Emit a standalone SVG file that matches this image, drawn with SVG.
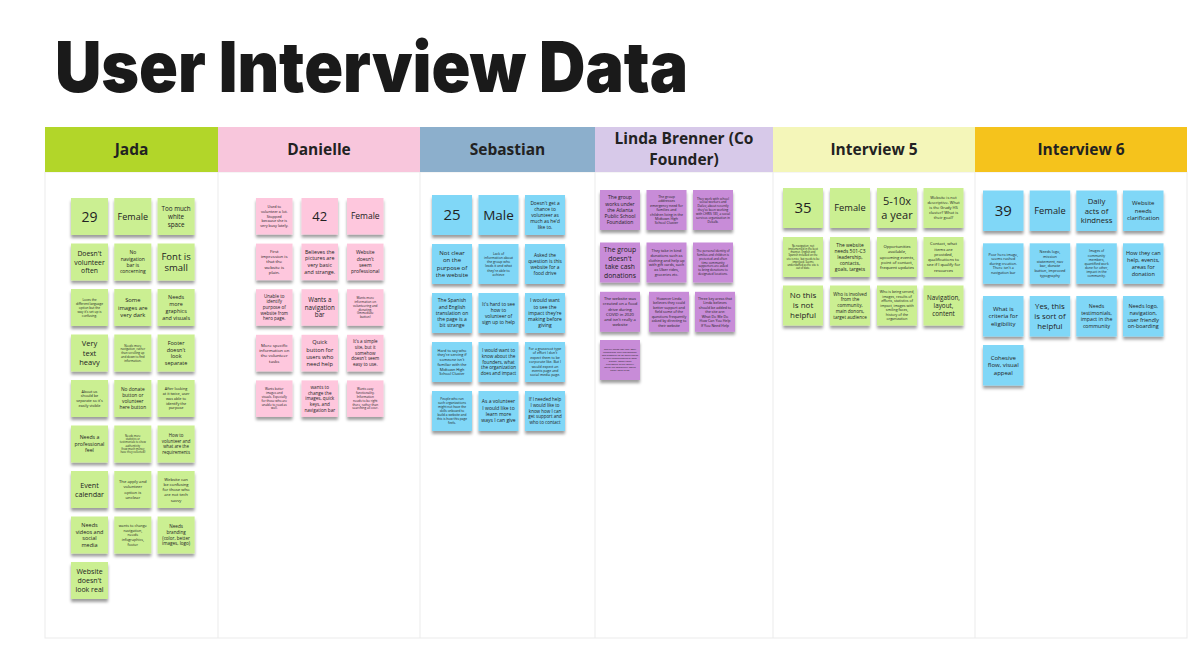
<svg xmlns="http://www.w3.org/2000/svg" width="1203" height="656" viewBox="0 0 1203 656">
<defs>
<filter id="sh" x="-20%" y="-20%" width="140%" height="160%">
<feDropShadow dx="0" dy="3" stdDeviation="1.6" flood-color="#000" flood-opacity="0.38"/>
</filter>
</defs>
<style>
.n{filter:url(#sh);}
.g{fill:#cbef92;}
.p{fill:#fec7dd;}
.b{fill:#80d7f7;}
.v{fill:#c88cd8;}
.t{font-family:"Open Sans","Liberation Sans",sans-serif;fill:#222;text-anchor:middle;}
.h{font-family:"Open Sans","Liberation Sans",sans-serif;font-weight:700;font-size:15.5px;fill:#222;text-anchor:middle;}
.div{stroke:#ebebeb;stroke-width:1;}
</style>
<rect width="1203" height="656" fill="#ffffff"/>
<text x="55" y="92" font-family="Inter,'Liberation Sans',sans-serif" font-weight="900" font-size="70" fill="#1a1a1a" textLength="633" lengthAdjust="spacingAndGlyphs">User Interview Data</text>

<g id="board">
<rect x="45" y="172" width="1142" height="466" fill="#ffffff" stroke="#ebebeb"/>
<line class="div" x1="218" y1="172" x2="218" y2="638"/>
<line class="div" x1="420" y1="172" x2="420" y2="638"/>
<line class="div" x1="595" y1="172" x2="595" y2="638"/>
<line class="div" x1="773" y1="172" x2="773" y2="638"/>
<line class="div" x1="975" y1="172" x2="975" y2="638"/>
</g>

<g id="header-jada"><rect x="45" y="127" width="173" height="45" fill="#b2d629"/><text class="h" x="131.5" y="155">Jada</text></g>
<g id="header-danielle"><rect x="218" y="127" width="202" height="45" fill="#f8c6dc"/><text class="h" x="319" y="155">Danielle</text></g>
<g id="header-sebastian"><rect x="420" y="127" width="175" height="45" fill="#8cafcc"/><text class="h" x="507.5" y="155">Sebastian</text></g>
<g id="header-linda"><rect x="595" y="127" width="178" height="45" fill="#d7c9e9"/><text class="h" x="684" y="144">Linda Brenner (Co<tspan x="684" dy="21">Founder)</tspan></text></g>
<g id="header-i5"><rect x="773" y="127" width="202" height="45" fill="#f4f6b9"/><text class="h" x="874" y="155">Interview 5</text></g>
<g id="header-i6"><rect x="975" y="127" width="212" height="45" fill="#f5c31c"/><text class="h" x="1081" y="155">Interview 6</text></g>

<!-- Jada -->
<g id="j1"><rect class="n g" x="71" y="198" width="37" height="37"/><text class="t" x="89.5" y="221.5" font-size="14">29</text></g>
<g id="j2"><rect class="n g" x="114.3" y="198" width="37" height="37"/><text class="t" x="132.8" y="219.7" font-size="9">Female</text></g>
<g id="j3"><rect class="n g" x="157.6" y="198" width="37" height="37"/><text class="t" x="176.1" y="210.9" font-size="6.3"><tspan x="176.1">Too much</tspan><tspan x="176.1" dy="1.25em">white</tspan><tspan x="176.1" dy="1.25em">space</tspan></text></g>
<g id="j4"><rect class="n g" x="71" y="243.5" width="37" height="37"/><text class="t" x="89.5" y="256" font-size="6.8"><tspan x="89.5">Doesn't</tspan><tspan x="89.5" dy="1.25em">volunteer</tspan><tspan x="89.5" dy="1.25em">often</tspan></text></g>
<g id="j5"><rect class="n g" x="114.3" y="243.5" width="37" height="37"/><text class="t" x="132.8" y="254.4" font-size="5"><tspan x="132.8">No</tspan><tspan x="132.8" dy="1.25em">navigation</tspan><tspan x="132.8" dy="1.25em">bar is</tspan><tspan x="132.8" dy="1.25em">concerning</tspan></text></g>
<g id="j6"><rect class="n g" x="157.6" y="243.5" width="37" height="37"/><text class="t" x="176.1" y="259.5" font-size="9.5"><tspan x="176.1">Font is</tspan><tspan x="176.1" dy="1.25em">small</tspan></text></g>
<g id="j7"><rect class="n g" x="71" y="289" width="37" height="37"/><text class="t" x="89.5" y="300.7" font-size="3.2"><tspan x="89.5">Loves the</tspan><tspan x="89.5" dy="1.25em">different language</tspan><tspan x="89.5" dy="1.25em">option but the</tspan><tspan x="89.5" dy="1.25em">way it's set up is</tspan><tspan x="89.5" dy="1.25em">confusing.</tspan></text></g>
<g id="j8"><rect class="n g" x="114.3" y="289" width="37" height="37"/><text class="t" x="132.8" y="302.3" font-size="5.8"><tspan x="132.8">Some</tspan><tspan x="132.8" dy="1.25em">images are</tspan><tspan x="132.8" dy="1.25em">very dark</tspan></text></g>
<g id="j9"><rect class="n g" x="157.6" y="289" width="37" height="37"/><text class="t" x="176.1" y="299.3" font-size="5.4"><tspan x="176.1">Needs</tspan><tspan x="176.1" dy="1.25em">more</tspan><tspan x="176.1" dy="1.25em">graphics</tspan><tspan x="176.1" dy="1.25em">and visuals</tspan></text></g>
<g id="j10"><rect class="n g" x="71" y="334.5" width="37" height="37"/><text class="t" x="89.5" y="346.3" font-size="7.5"><tspan x="89.5">Very</tspan><tspan x="89.5" dy="1.25em">text</tspan><tspan x="89.5" dy="1.25em">heavy</tspan></text></g>
<g id="j11"><rect class="n g" x="114.3" y="334.5" width="37" height="37"/><text class="t" x="132.8" y="346.6" font-size="3"><tspan x="132.8">Needs more</tspan><tspan x="132.8" dy="1.25em">navigation, rather</tspan><tspan x="132.8" dy="1.25em">than scrolling up</tspan><tspan x="132.8" dy="1.25em">and down to find</tspan><tspan x="132.8" dy="1.25em">information.</tspan></text></g>
<g id="j12"><rect class="n g" x="157.6" y="334.5" width="37" height="37"/><text class="t" x="176.1" y="344.7" font-size="5.5"><tspan x="176.1">Footer</tspan><tspan x="176.1" dy="1.25em">doesn't</tspan><tspan x="176.1" dy="1.25em">look</tspan><tspan x="176.1" dy="1.25em">separate</tspan></text></g>
<g id="j13"><rect class="n g" x="71" y="380" width="37" height="37"/><text class="t" x="89.5" y="392.7" font-size="3.8"><tspan x="89.5">About us</tspan><tspan x="89.5" dy="1.25em">should be</tspan><tspan x="89.5" dy="1.25em">separate so it's</tspan><tspan x="89.5" dy="1.25em">easily visible</tspan></text></g>
<g id="j14"><rect class="n g" x="114.3" y="380" width="37" height="37"/><text class="t" x="132.8" y="391.2" font-size="4.8"><tspan x="132.8">No donate</tspan><tspan x="132.8" dy="1.25em">button or</tspan><tspan x="132.8" dy="1.25em">volunteer</tspan><tspan x="132.8" dy="1.25em">here button</tspan></text></g>
<g id="j15"><rect class="n g" x="157.6" y="380" width="37" height="37"/><text class="t" x="176.1" y="390.4" font-size="3.8"><tspan x="176.1">After looking</tspan><tspan x="176.1" dy="1.25em">at it twice, user</tspan><tspan x="176.1" dy="1.25em">was able to</tspan><tspan x="176.1" dy="1.25em">identify the</tspan><tspan x="176.1" dy="1.25em">purpose</tspan></text></g>
<g id="j16"><rect class="n g" x="71" y="425.5" width="37" height="37"/><text class="t" x="89.5" y="439.4" font-size="5.2"><tspan x="89.5">Needs a</tspan><tspan x="89.5" dy="1.25em">professional</tspan><tspan x="89.5" dy="1.25em">feel</tspan></text></g>
<g id="j17"><rect class="n g" x="114.3" y="425.5" width="37" height="37"/><text class="t" x="132.8" y="436.5" font-size="2.7"><tspan x="132.8">Needs more</tspan><tspan x="132.8" dy="1.25em">statistics or</tspan><tspan x="132.8" dy="1.25em">testimonials to show</tspan><tspan x="132.8" dy="1.25em">authenticity</tspan><tspan x="132.8" dy="1.25em">(how much money</tspan><tspan x="132.8" dy="1.25em">have they collected)</tspan></text></g>
<g id="j18"><rect class="n g" x="157.6" y="425.5" width="37" height="37"/><text class="t" x="176.1" y="437.3" font-size="4.4"><tspan x="176.1">How to</tspan><tspan x="176.1" dy="1.25em">volunteer and</tspan><tspan x="176.1" dy="1.25em">what are the</tspan><tspan x="176.1" dy="1.25em">requirements</tspan></text></g>
<g id="j19"><rect class="n g" x="71" y="471" width="37" height="37"/><text class="t" x="89.5" y="487.6" font-size="7.2"><tspan x="89.5">Event</tspan><tspan x="89.5" dy="1.25em">calendar</tspan></text></g>
<g id="j20"><rect class="n g" x="114.3" y="471" width="37" height="37"/><text class="t" x="132.8" y="483.1" font-size="4.2"><tspan x="132.8">The apply and</tspan><tspan x="132.8" dy="1.25em">volunteer</tspan><tspan x="132.8" dy="1.25em">option is</tspan><tspan x="132.8" dy="1.25em">unclear</tspan></text></g>
<g id="j21"><rect class="n g" x="157.6" y="471" width="37" height="37"/><text class="t" x="176.1" y="480.5" font-size="4.2"><tspan x="176.1">Website can</tspan><tspan x="176.1" dy="1.25em">be confusing</tspan><tspan x="176.1" dy="1.25em">for those who</tspan><tspan x="176.1" dy="1.25em">are not tech</tspan><tspan x="176.1" dy="1.25em">savvy</tspan></text></g>
<g id="j22"><rect class="n g" x="71" y="516.5" width="37" height="37"/><text class="t" x="89.5" y="526.7" font-size="5.5"><tspan x="89.5">Needs</tspan><tspan x="89.5" dy="1.25em">videos and</tspan><tspan x="89.5" dy="1.25em">social</tspan><tspan x="89.5" dy="1.25em">media</tspan></text></g>
<g id="j23"><rect class="n g" x="114.3" y="516.5" width="37" height="37"/><text class="t" x="132.8" y="527.1" font-size="3.7"><tspan x="132.8">wants to change</tspan><tspan x="132.8" dy="1.25em">navigation,</tspan><tspan x="132.8" dy="1.25em">needs</tspan><tspan x="132.8" dy="1.25em">infographics,</tspan><tspan x="132.8" dy="1.25em">footer</tspan></text></g>
<g id="j24"><rect class="n g" x="157.6" y="516.5" width="37" height="37"/><text class="t" x="176.1" y="528" font-size="4.6"><tspan x="176.1">Needs</tspan><tspan x="176.1" dy="1.25em">branding</tspan><tspan x="176.1" dy="1.25em">(color, better</tspan><tspan x="176.1" dy="1.25em">images, logo)</tspan></text></g>
<g id="j25"><rect class="n g" x="71" y="562" width="37" height="37"/><text class="t" x="89.5" y="574.3" font-size="7"><tspan x="89.5">Website</tspan><tspan x="89.5" dy="1.25em">doesn't</tspan><tspan x="89.5" dy="1.25em">look real</tspan></text></g>

<!-- Danielle -->
<g id="d1"><rect class="n p" x="256" y="198" width="36.5" height="36.5"/><text class="t" x="274.25" y="208.1" font-size="3.8"><tspan x="274.25">Used to</tspan><tspan x="274.25" dy="1.25em">volunteer a lot.</tspan><tspan x="274.25" dy="1.25em">Stopped</tspan><tspan x="274.25" dy="1.25em">because she is</tspan><tspan x="274.25" dy="1.25em">very busy lately.</tspan></text></g>
<g id="d2"><rect class="n p" x="301.5" y="198" width="36.5" height="36.5"/><text class="t" x="319.75" y="220.9" font-size="13">42</text></g>
<g id="d3"><rect class="n p" x="347" y="198" width="36.5" height="36.5"/><text class="t" x="365.25" y="219.3" font-size="8.5">Female</text></g>
<g id="d4"><rect class="n p" x="256" y="243.6" width="36.5" height="36.5"/><text class="t" x="274.25" y="252.65" font-size="4.3"><tspan x="274.25">First</tspan><tspan x="274.25" dy="1.25em">impression is</tspan><tspan x="274.25" dy="1.25em">that the</tspan><tspan x="274.25" dy="1.25em">website is</tspan><tspan x="274.25" dy="1.25em">plain.</tspan></text></g>
<g id="d5"><rect class="n p" x="301.5" y="243.6" width="36.5" height="36.5"/><text class="t" x="319.75" y="253.8" font-size="5.3"><tspan x="319.75">Believes the</tspan><tspan x="319.75" dy="1.25em">pictures are</tspan><tspan x="319.75" dy="1.25em">very basic</tspan><tspan x="319.75" dy="1.25em">and strange.</tspan></text></g>
<g id="d6"><rect class="n p" x="347" y="243.6" width="36.5" height="36.5"/><text class="t" x="365.25" y="254.3" font-size="5"><tspan x="365.25">Website</tspan><tspan x="365.25" dy="1.25em">doesn't</tspan><tspan x="365.25" dy="1.25em">seem</tspan><tspan x="365.25" dy="1.25em">professional</tspan></text></g>
<g id="d7"><rect class="n p" x="256" y="289.2" width="36.5" height="36.5"/><text class="t" x="274.25" y="297.8" font-size="4.5"><tspan x="274.25">Unable to</tspan><tspan x="274.25" dy="1.25em">identify</tspan><tspan x="274.25" dy="1.25em">purpose of</tspan><tspan x="274.25" dy="1.25em">website from</tspan><tspan x="274.25" dy="1.25em">hero page.</tspan></text></g>
<g id="d8"><rect class="n p" x="301.5" y="289.2" width="36.5" height="36.5"/><text class="t" x="319.75" y="301.9" font-size="6.2"><tspan x="319.75">Wants a</tspan><tspan x="319.75" dy="1.25em">navigation</tspan><tspan x="319.75" dy="1.25em">bar</tspan></text></g>
<g id="d9"><rect class="n p" x="347" y="289.2" width="36.5" height="36.5"/><text class="t" x="365.25" y="298.9" font-size="3.1"><tspan x="365.25">Wants more</tspan><tspan x="365.25" dy="1.25em">information on</tspan><tspan x="365.25" dy="1.25em">volunteering and</tspan><tspan x="365.25" dy="1.25em">donating.</tspan><tspan x="365.25" dy="1.25em">(Immediate</tspan><tspan x="365.25" dy="1.25em">button)</tspan></text></g>
<g id="d10"><rect class="n p" x="256" y="334.8" width="36.5" height="36.5"/><text class="t" x="274.25" y="346.5" font-size="4.3"><tspan x="274.25">More specific</tspan><tspan x="274.25" dy="1.25em">information on</tspan><tspan x="274.25" dy="1.25em">the volunteer</tspan><tspan x="274.25" dy="1.25em">tasks</tspan></text></g>
<g id="d11"><rect class="n p" x="301.5" y="334.8" width="36.5" height="36.5"/><text class="t" x="319.75" y="344.4" font-size="5.7"><tspan x="319.75">Quick</tspan><tspan x="319.75" dy="1.25em">button for</tspan><tspan x="319.75" dy="1.25em">users who</tspan><tspan x="319.75" dy="1.25em">need help</tspan></text></g>
<g id="d12"><rect class="n p" x="347" y="334.8" width="36.5" height="36.5"/><text class="t" x="365.25" y="343.4" font-size="4.5"><tspan x="365.25">It's a simple</tspan><tspan x="365.25" dy="1.25em">site, but it</tspan><tspan x="365.25" dy="1.25em">somehow</tspan><tspan x="365.25" dy="1.25em">doesn't seem</tspan><tspan x="365.25" dy="1.25em">easy to use.</tspan></text></g>
<g id="d13"><rect class="n p" x="256" y="380.4" width="36.5" height="36.5"/><text class="t" x="274.25" y="390.1" font-size="3.1"><tspan x="274.25">Wants better</tspan><tspan x="274.25" dy="1.25em">images and</tspan><tspan x="274.25" dy="1.25em">visuals. Especially</tspan><tspan x="274.25" dy="1.25em">for those who are</tspan><tspan x="274.25" dy="1.25em">unable to read as</tspan><tspan x="274.25" dy="1.25em">well.</tspan></text></g>
<g id="d14"><rect class="n p" x="301.5" y="380.4" width="36.5" height="36.5"/><text class="t" x="319.75" y="388.8" font-size="4.6"><tspan x="319.75">wants to</tspan><tspan x="319.75" dy="1.25em">change the</tspan><tspan x="319.75" dy="1.25em">images, quick</tspan><tspan x="319.75" dy="1.25em">keys, and</tspan><tspan x="319.75" dy="1.25em">navigation bar</tspan></text></g>
<g id="d15"><rect class="n p" x="347" y="380.4" width="36.5" height="36.5"/><text class="t" x="365.25" y="390.1" font-size="3.1"><tspan x="365.25">Wants easy</tspan><tspan x="365.25" dy="1.25em">functionality.</tspan><tspan x="365.25" dy="1.25em">Information</tspan><tspan x="365.25" dy="1.25em">needs to be right</tspan><tspan x="365.25" dy="1.25em">there, rather than</tspan><tspan x="365.25" dy="1.25em">searching all over.</tspan></text></g>

<!-- Sebastian -->
<g id="s1"><rect class="n b" x="432" y="195" width="40" height="40"/><text class="t" x="452" y="220.4" font-size="15">25</text></g>
<g id="s2"><rect class="n b" x="478.5" y="195" width="40" height="40"/><text class="t" x="498.5" y="219.9" font-size="13.5">Male</text></g>
<g id="s3"><rect class="n b" x="525" y="195" width="40" height="40"/><text class="t" x="545" y="204.7" font-size="4.8"><tspan x="545">Doesn't get a</tspan><tspan x="545" dy="1.25em">chance to</tspan><tspan x="545" dy="1.25em">volunteer as</tspan><tspan x="545" dy="1.25em">much as he'd</tspan><tspan x="545" dy="1.25em">like to.</tspan></text></g>
<g id="s4"><rect class="n b" x="432" y="244" width="40" height="40"/><text class="t" x="452" y="254.9" font-size="6"><tspan x="452">Not clear</tspan><tspan x="452" dy="1.25em">on the</tspan><tspan x="452" dy="1.25em">purpose of</tspan><tspan x="452" dy="1.25em">the website</tspan></text></g>
<g id="s5"><rect class="n b" x="478.5" y="244" width="40" height="40"/><text class="t" x="498.5" y="254.6" font-size="3.4"><tspan x="498.5">Lack of</tspan><tspan x="498.5" dy="1.25em">information about</tspan><tspan x="498.5" dy="1.25em">the group who</tspan><tspan x="498.5" dy="1.25em">leads it and what</tspan><tspan x="498.5" dy="1.25em">they're able to</tspan><tspan x="498.5" dy="1.25em">achieve</tspan></text></g>
<g id="s6"><rect class="n b" x="525" y="244" width="40" height="40"/><text class="t" x="545" y="256.7" font-size="4.8"><tspan x="545">Asked the</tspan><tspan x="545" dy="1.25em">question is this</tspan><tspan x="545" dy="1.25em">website for a</tspan><tspan x="545" dy="1.25em">food drive</tspan></text></g>
<g id="s7"><rect class="n b" x="432" y="293" width="40" height="40"/><text class="t" x="452" y="302.3" font-size="5"><tspan x="452">The Spanish</tspan><tspan x="452" dy="1.25em">and English</tspan><tspan x="452" dy="1.25em">translation on</tspan><tspan x="452" dy="1.25em">the page is a</tspan><tspan x="452" dy="1.25em">bit strange</tspan></text></g>
<g id="s8"><rect class="n b" x="478.5" y="293" width="40" height="40"/><text class="t" x="498.5" y="305.7" font-size="4.8"><tspan x="498.5">It's hard to see</tspan><tspan x="498.5" dy="1.25em">how to</tspan><tspan x="498.5" dy="1.25em">volunteer of</tspan><tspan x="498.5" dy="1.25em">sign up to help</tspan></text></g>
<g id="s9"><rect class="n b" x="525" y="293" width="40" height="40"/><text class="t" x="545" y="302.3" font-size="5"><tspan x="545">I would want</tspan><tspan x="545" dy="1.25em">to see the</tspan><tspan x="545" dy="1.25em">impact they're</tspan><tspan x="545" dy="1.25em">making before</tspan><tspan x="545" dy="1.25em">giving</tspan></text></g>
<g id="s10"><rect class="n b" x="432" y="342" width="40" height="40"/><text class="t" x="452" y="351.5" font-size="3.8"><tspan x="452">Hard to say who</tspan><tspan x="452" dy="1.25em">they're serving if</tspan><tspan x="452" dy="1.25em">someone isn't</tspan><tspan x="452" dy="1.25em">familiar with the</tspan><tspan x="452" dy="1.25em">Midtown High</tspan><tspan x="452" dy="1.25em">School Cluster</tspan></text></g>
<g id="s11"><rect class="n b" x="478.5" y="342" width="40" height="40"/><text class="t" x="498.5" y="352.2" font-size="4.6"><tspan x="498.5">I would want to</tspan><tspan x="498.5" dy="1.25em">know about the</tspan><tspan x="498.5" dy="1.25em">founders, what</tspan><tspan x="498.5" dy="1.25em">the organization</tspan><tspan x="498.5" dy="1.25em">does and impact</tspan></text></g>
<g id="s12"><rect class="n b" x="525" y="342" width="40" height="40"/><text class="t" x="545" y="350.1" font-size="3.5"><tspan x="545">For a grassroot type</tspan><tspan x="545" dy="1.25em">of effort I don't</tspan><tspan x="545" dy="1.25em">expect them to be</tspan><tspan x="545" dy="1.25em">corporate like. But I</tspan><tspan x="545" dy="1.25em">would expect an</tspan><tspan x="545" dy="1.25em">events page and</tspan><tspan x="545" dy="1.25em">social media page.</tspan></text></g>
<g id="s13"><rect class="n b" x="432" y="391" width="40" height="40"/><text class="t" x="452" y="400.2" font-size="3.2"><tspan x="452">People who run</tspan><tspan x="452" dy="1.25em">such organizations</tspan><tspan x="452" dy="1.25em">might not have the</tspan><tspan x="452" dy="1.25em">skills onboard to</tspan><tspan x="452" dy="1.25em">build a website and</tspan><tspan x="452" dy="1.25em">this is how this page</tspan><tspan x="452" dy="1.25em">feels.</tspan></text></g>
<g id="s14"><rect class="n b" x="478.5" y="391" width="40" height="40"/><text class="t" x="498.5" y="403.4" font-size="5"><tspan x="498.5">As a volunteer</tspan><tspan x="498.5" dy="1.25em">I would like to</tspan><tspan x="498.5" dy="1.25em">learn more</tspan><tspan x="498.5" dy="1.25em">ways I can give</tspan></text></g>
<g id="s15"><rect class="n b" x="525" y="391" width="40" height="40"/><text class="t" x="545" y="401.4" font-size="4.5"><tspan x="545">If I needed help</tspan><tspan x="545" dy="1.25em">I would like to</tspan><tspan x="545" dy="1.25em">know how I can</tspan><tspan x="545" dy="1.25em">get support and</tspan><tspan x="545" dy="1.25em">who to contact</tspan></text></g>

<!-- Linda -->
<g id="l1"><rect class="n v" x="600" y="190" width="40" height="40"/><text class="t" x="620" y="199.3" font-size="5"><tspan x="620">The group</tspan><tspan x="620" dy="1.25em">works under</tspan><tspan x="620" dy="1.25em">the Atlanta</tspan><tspan x="620" dy="1.25em">Public School</tspan><tspan x="620" dy="1.25em">Foundation</tspan></text></g>
<g id="l2"><rect class="n v" x="646.5" y="190" width="40" height="40"/><text class="t" x="666.5" y="198.1" font-size="3.5"><tspan x="666.5">The group</tspan><tspan x="666.5" dy="1.25em">addresses</tspan><tspan x="666.5" dy="1.25em">emergency need for</tspan><tspan x="666.5" dy="1.25em">families and</tspan><tspan x="666.5" dy="1.25em">children living in the</tspan><tspan x="666.5" dy="1.25em">Midtown High</tspan><tspan x="666.5" dy="1.25em">School Cluster</tspan></text></g>
<g id="l3"><rect class="n v" x="693" y="190" width="40" height="40"/><text class="t" x="713" y="199.5" font-size="3.1"><tspan x="713">They work with school</tspan><tspan x="713" dy="1.25em">social workers and</tspan><tspan x="713" dy="1.25em">Dailes; about recently</tspan><tspan x="713" dy="1.25em">they've been working</tspan><tspan x="713" dy="1.25em">with CHRIS 180, a social</tspan><tspan x="713" dy="1.25em">services organization in</tspan><tspan x="713" dy="1.25em">Dekalb.</tspan></text></g>
<g id="l4"><rect class="n v" x="600" y="242.5" width="40" height="40"/><text class="t" x="620" y="252.2" font-size="6.8"><tspan x="620">The group</tspan><tspan x="620" dy="1.25em">doesn't</tspan><tspan x="620" dy="1.25em">take cash</tspan><tspan x="620" dy="1.25em">donations</tspan></text></g>
<g id="l5"><rect class="n v" x="646.5" y="242.5" width="40" height="40"/><text class="t" x="666.5" y="252" font-size="3.8"><tspan x="666.5">They take in kind</tspan><tspan x="666.5" dy="1.25em">donations such as</tspan><tspan x="666.5" dy="1.25em">clothing and help up</tspan><tspan x="666.5" dy="1.25em">with gift cards, such</tspan><tspan x="666.5" dy="1.25em">as Uber rides,</tspan><tspan x="666.5" dy="1.25em">groceries etc.</tspan></text></g>
<g id="l6"><rect class="n v" x="693" y="242.5" width="40" height="40"/><text class="t" x="713" y="252.3" font-size="3"><tspan x="713">The personal identity of</tspan><tspan x="713" dy="1.25em">families and children is</tspan><tspan x="713" dy="1.25em">protected and often</tspan><tspan x="713" dy="1.25em">time community</tspan><tspan x="713" dy="1.25em">supporters are asked</tspan><tspan x="713" dy="1.25em">to bring donations to</tspan><tspan x="713" dy="1.25em">designated locations.</tspan></text></g>
<g id="l7"><rect class="n v" x="600" y="291.8" width="40" height="40"/><text class="t" x="620" y="300.2" font-size="4.2"><tspan x="620">The website was</tspan><tspan x="620" dy="1.25em">created on a food</tspan><tspan x="620" dy="1.25em">drive during</tspan><tspan x="620" dy="1.25em">COVID in 2020</tspan><tspan x="620" dy="1.25em">and isn't really a</tspan><tspan x="620" dy="1.25em">website</tspan></text></g>
<g id="l8"><rect class="n v" x="649" y="291.8" width="40" height="40"/><text class="t" x="669" y="299.6" font-size="3.6"><tspan x="669">However Linda</tspan><tspan x="669" dy="1.25em">believes they could</tspan><tspan x="669" dy="1.25em">better support and</tspan><tspan x="669" dy="1.25em">field some of the</tspan><tspan x="669" dy="1.25em">questions frequently</tspan><tspan x="669" dy="1.25em">asked by directing to</tspan><tspan x="669" dy="1.25em">their website</tspan></text></g>
<g id="l9"><rect class="n v" x="695" y="291.8" width="40" height="40"/><text class="t" x="715" y="299.6" font-size="3.6"><tspan x="715">Three key areas that</tspan><tspan x="715" dy="1.25em">Linda believes</tspan><tspan x="715" dy="1.25em">should be added to</tspan><tspan x="715" dy="1.25em">the site are:</tspan><tspan x="715" dy="1.25em">What Do We Do</tspan><tspan x="715" dy="1.25em">How Can You Help</tspan><tspan x="715" dy="1.25em">If You Need Help</tspan></text></g>
<g id="l10"><rect class="n v" x="600" y="340" width="40" height="40"/><text class="t" x="620" y="350.4" font-size="2.4"><tspan x="620">The city areas that they don't</tspan><tspan x="620" dy="1.25em">understand their environment</tspan><tspan x="620" dy="1.25em">and supports for so much needs</tspan><tspan x="620" dy="1.25em">in their understanding of what</tspan><tspan x="620" dy="1.25em">already. Some times</tspan><tspan x="620" dy="1.25em">This would be an identity</tspan><tspan x="620" dy="1.25em">which the community would</tspan><tspan x="620" dy="1.25em">kindly have to do.</tspan></text></g>

<!-- Interview 5 -->
<g id="i1"><rect class="n g" x="783" y="188" width="40" height="40"/><text class="t" x="803" y="213.4" font-size="15">35</text></g>
<g id="i2"><rect class="n g" x="830" y="188" width="40" height="40"/><text class="t" x="850" y="211.3" font-size="9.3">Female</text></g>
<g id="i3"><rect class="n g" x="877" y="188" width="40" height="40"/><text class="t" x="897" y="205.1" font-size="11"><tspan x="897">5-10x</tspan><tspan x="897" dy="1.25em">a year</tspan></text></g>
<g id="i4"><rect class="n g" x="923.5" y="188" width="40" height="40"/><text class="t" x="943.5" y="199.4" font-size="4"><tspan x="943.5">Website is not</tspan><tspan x="943.5" dy="1.25em">descriptive. What</tspan><tspan x="943.5" dy="1.25em">is the Grady HS</tspan><tspan x="943.5" dy="1.25em">cluster? What is</tspan><tspan x="943.5" dy="1.25em">their goal?</tspan></text></g>
<g id="i5"><rect class="n g" x="783" y="237" width="40" height="40"/><text class="t" x="803" y="246.6" font-size="2.6"><tspan x="803">No navigation, not</tspan><tspan x="803" dy="1.25em">implemented in the best</tspan><tspan x="803" dy="1.25em">manner. English and</tspan><tspan x="803" dy="1.25em">Spanish included on the</tspan><tspan x="803" dy="1.25em">site is nice, but needs to be</tspan><tspan x="803" dy="1.25em">improved. Seems</tspan><tspan x="803" dy="1.25em">understaffed as the site is</tspan><tspan x="803" dy="1.25em">out of date.</tspan></text></g>
<g id="i6"><rect class="n g" x="830" y="237" width="40" height="40"/><text class="t" x="850" y="246.5" font-size="4.9"><tspan x="850">The website</tspan><tspan x="850" dy="1.25em">needs 501-C3</tspan><tspan x="850" dy="1.25em">leadership,</tspan><tspan x="850" dy="1.25em">contacts,</tspan><tspan x="850" dy="1.25em">goals, targets</tspan></text></g>
<g id="i7"><rect class="n g" x="877" y="237" width="40" height="40"/><text class="t" x="897" y="248" font-size="4.2"><tspan x="897">Opportunities</tspan><tspan x="897" dy="1.25em">available,</tspan><tspan x="897" dy="1.25em">upcoming events,</tspan><tspan x="897" dy="1.25em">point of contact,</tspan><tspan x="897" dy="1.25em">frequent updates</tspan></text></g>
<g id="i8"><rect class="n g" x="923.5" y="237" width="40" height="40"/><text class="t" x="943.5" y="245.4" font-size="4.2"><tspan x="943.5">Contact, what</tspan><tspan x="943.5" dy="1.25em">items are</tspan><tspan x="943.5" dy="1.25em">provided,</tspan><tspan x="943.5" dy="1.25em">qualifications to</tspan><tspan x="943.5" dy="1.25em">see if I qualify for</tspan><tspan x="943.5" dy="1.25em">resources</tspan></text></g>
<g id="i9"><rect class="n g" x="783" y="285.5" width="40" height="40"/><text class="t" x="803" y="298.4" font-size="8"><tspan x="803">No this</tspan><tspan x="803" dy="1.25em">is not</tspan><tspan x="803" dy="1.25em">helpful</tspan></text></g>
<g id="i10"><rect class="n g" x="830" y="285.5" width="40" height="40"/><text class="t" x="850" y="295.7" font-size="4.6"><tspan x="850">Who is involved</tspan><tspan x="850" dy="1.25em">from the</tspan><tspan x="850" dy="1.25em">community,</tspan><tspan x="850" dy="1.25em">main donors,</tspan><tspan x="850" dy="1.25em">target audience</tspan></text></g>
<g id="i11"><rect class="n g" x="877" y="285.5" width="40" height="40"/><text class="t" x="897" y="293.3" font-size="3.6"><tspan x="897">Who is being served,</tspan><tspan x="897" dy="1.25em">images, results of</tspan><tspan x="897" dy="1.25em">efforts, statistics of</tspan><tspan x="897" dy="1.25em">impact, images with</tspan><tspan x="897" dy="1.25em">smiling faces,</tspan><tspan x="897" dy="1.25em">history of the</tspan><tspan x="897" dy="1.25em">organization</tspan></text></g>
<g id="i12"><rect class="n g" x="923.5" y="285.5" width="40" height="40"/><text class="t" x="943.5" y="299.9" font-size="6.3"><tspan x="943.5">Navigation,</tspan><tspan x="943.5" dy="1.25em">layout,</tspan><tspan x="943.5" dy="1.25em">content</tspan></text></g>

<!-- Interview 6 -->
<g id="k1"><rect class="n b" x="983" y="190.5" width="40.5" height="40.5"/><text class="t" x="1003.25" y="216.2" font-size="15">39</text></g>
<g id="k2"><rect class="n b" x="1029.7" y="190.5" width="40.5" height="40.5"/><text class="t" x="1049.95" y="214.1" font-size="9.3">Female</text></g>
<g id="k3"><rect class="n b" x="1076.3" y="190.5" width="40.5" height="40.5"/><text class="t" x="1096.55" y="203.9" font-size="7.7"><tspan x="1096.55">Daily</tspan><tspan x="1096.55" dy="1.25em">acts of</tspan><tspan x="1096.55" dy="1.25em">kindness</tspan></text></g>
<g id="k4"><rect class="n b" x="1123" y="190.5" width="40.5" height="40.5"/><text class="t" x="1143.25" y="205.4" font-size="6"><tspan x="1143.25">Website</tspan><tspan x="1143.25" dy="1.25em">needs</tspan><tspan x="1143.25" dy="1.25em">clarification</tspan></text></g>
<g id="k5"><rect class="n b" x="983" y="243.3" width="40.5" height="40.5"/><text class="t" x="1003.25" y="255.6" font-size="3.7"><tspan x="1003.25">Poor hero image,</tspan><tspan x="1003.25" dy="1.25em">seems rushed</tspan><tspan x="1003.25" dy="1.25em">during creation.</tspan><tspan x="1003.25" dy="1.25em">There isn't a</tspan><tspan x="1003.25" dy="1.25em">navigation bar</tspan></text></g>
<g id="k6"><rect class="n b" x="1029.7" y="243.3" width="40.5" height="40.5"/><text class="t" x="1049.95" y="253" font-size="3.8"><tspan x="1049.95">Needs logo,</tspan><tspan x="1049.95" dy="1.25em">mission</tspan><tspan x="1049.95" dy="1.25em">statement, nav</tspan><tspan x="1049.95" dy="1.25em">bar, donate</tspan><tspan x="1049.95" dy="1.25em">button, improved</tspan><tspan x="1049.95" dy="1.25em">typography</tspan></text></g>
<g id="k7"><rect class="n b" x="1076.3" y="243.3" width="40.5" height="40.5"/><text class="t" x="1096.55" y="252.4" font-size="3.3"><tspan x="1096.55">Images of</tspan><tspan x="1096.55" dy="1.25em">community</tspan><tspan x="1096.55" dy="1.25em">members,</tspan><tspan x="1096.55" dy="1.25em">quantified work</tspan><tspan x="1096.55" dy="1.25em">done for other,</tspan><tspan x="1096.55" dy="1.25em">impact in the</tspan><tspan x="1096.55" dy="1.25em">community.</tspan></text></g>
<g id="k8"><rect class="n b" x="1123" y="243.3" width="40.5" height="40.5"/><text class="t" x="1143.25" y="255.2" font-size="5.5"><tspan x="1143.25">How they can</tspan><tspan x="1143.25" dy="1.25em">help, events,</tspan><tspan x="1143.25" dy="1.25em">areas for</tspan><tspan x="1143.25" dy="1.25em">donation</tspan></text></g>
<g id="k9"><rect class="n b" x="983" y="296" width="40.5" height="40.5"/><text class="t" x="1003.25" y="310.9" font-size="6"><tspan x="1003.25">What is</tspan><tspan x="1003.25" dy="1.25em">criteria for</tspan><tspan x="1003.25" dy="1.25em">eligibility</tspan></text></g>
<g id="k10"><rect class="n b" x="1029.7" y="296" width="40.5" height="40.5"/><text class="t" x="1049.95" y="309.3" font-size="7.8"><tspan x="1049.95">Yes, this</tspan><tspan x="1049.95" dy="1.25em">is sort of</tspan><tspan x="1049.95" dy="1.25em">helpful</tspan></text></g>
<g id="k11"><rect class="n b" x="1076.3" y="296" width="40.5" height="40.5"/><text class="t" x="1096.55" y="308.4" font-size="5.2"><tspan x="1096.55">Needs</tspan><tspan x="1096.55" dy="1.25em">testimonials,</tspan><tspan x="1096.55" dy="1.25em">impact in the</tspan><tspan x="1096.55" dy="1.25em">community</tspan></text></g>
<g id="k12"><rect class="n b" x="1123" y="296" width="40.5" height="40.5"/><text class="t" x="1143.25" y="308.1" font-size="5.4"><tspan x="1143.25">Needs logo,</tspan><tspan x="1143.25" dy="1.25em">navigation,</tspan><tspan x="1143.25" dy="1.25em">user friendly</tspan><tspan x="1143.25" dy="1.25em">on-boarding</tspan></text></g>
<g id="k13"><rect class="n b" x="983" y="345" width="40.5" height="40.5"/><text class="t" x="1003.25" y="359.9" font-size="6"><tspan x="1003.25">Cohesive</tspan><tspan x="1003.25" dy="1.25em">flow, visual</tspan><tspan x="1003.25" dy="1.25em">appeal</tspan></text></g>
</svg>
